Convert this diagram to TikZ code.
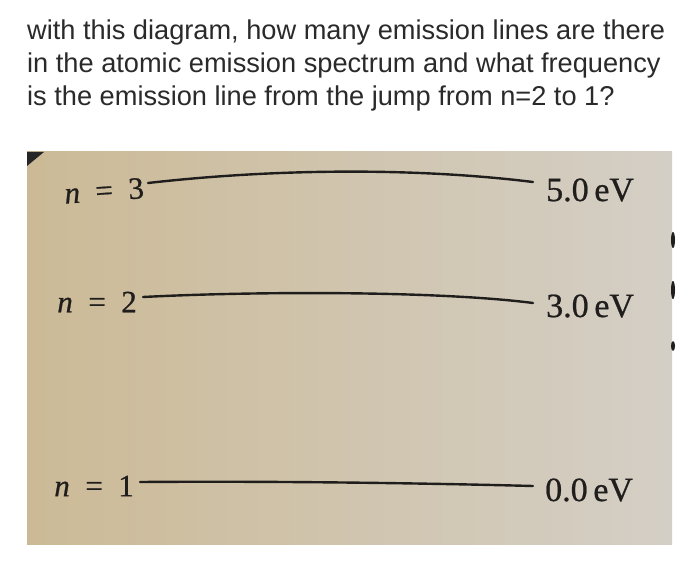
\documentclass[tikz,border=0pt]{standalone}
\usepackage{fontspec}
\setmainfont{Liberation Serif}
\newfontfamily\qfont{Liberation Sans}
\newfontfamily\lfont{Liberation Serif}[FakeBold=0.7]
\usepackage{tikz}
\usepackage{xcolor}
\usetikzlibrary{positioning}
\definecolor{paperL}{RGB}{204,186,150}
\definecolor{paperM}{RGB}{222,214,198}
\definecolor{paperR}{RGB}{212,207,198}
\definecolor{ink}{RGB}{32,30,28}
\definecolor{qtext}{RGB}{42,42,42}

\begin{document}
\begin{tikzpicture}%
  [x=1pt,y=-1pt,
   level/.style={draw=ink,line width=2.4pt,line cap=round}]
  \tikzstyle{q node}=[anchor=base west,inner sep=0,text=qtext,
    font=\qfont\fontsize{27.2}{27}\selectfont]
  \tikzstyle{n node}=[inner sep=0,text=ink,font=\lfont\fontsize{31}{31}\selectfont]
  \tikzstyle{ev node}=[inner sep=0,text=ink,font=\lfont\fontsize{34}{34}\selectfont]
  \useasboundingbox[fill=white] (0,0) rectangle (700,564);
  % question
  \node[q node] (q1) at (27,40) {with this diagram, how many emission lines are there};
  \node[q node] (q2) at (27,73) {in the atomic emission spectrum and what frequency};
  \node[q node] (q3) at (27,106) {is the emission line from the jump from n=2 to 1?};
  % the photo
  \shade[left color=paperL,middle color=paperM,right color=paperR]
    (27,152) rectangle (672,544);
  \fill[black!85] (27,152) -- (44,152) -- (27,166) -- cycle;
  \fill[ink] (673,240) ellipse (2 and 8);
  \fill[ink] (673,290) ellipse (2 and 9);
  \fill[ink] (673,346) ellipse (2 and 5);
  % levels
  \coordinate (a3) at (148,183);
  \coordinate (b3) at (533,182);
  \coordinate (a2) at (143,297);
  \coordinate (b2) at (533,303);
  \coordinate (a1) at (140,482);
  \coordinate (b1) at (533,486);
  \node[n node,left=4pt of a3,yshift=-5pt,rotate=4] (n3) {\textit{n}\enspace=\enspace3};
  \node[n node,left=6pt of a2,yshift=-5pt] (n2) {\textit{n}\enspace=\enspace2};
  \node[n node,left=6pt of a1,yshift=-4pt] (n1) {\textit{n}\enspace=\enspace1};
  \node[ev node,right=13pt of b3,yshift=-8pt] (e3) {5.0\,eV};
  \node[ev node,right=13pt of b2,yshift=-3pt] (e2) {3.0\,eV};
  \node[ev node,right=12pt of b1,yshift=-4pt] (e1) {0.0\,eV};
  \draw[level] (a3) .. controls (280,168) and (420,168) .. (b3);
  \draw[level] (a2) .. controls (260,291) and (440,291) .. (b2);
  \draw[level] (a1) .. controls (270,481) and (420,483) .. (b1);
\end{tikzpicture}
\end{document}
